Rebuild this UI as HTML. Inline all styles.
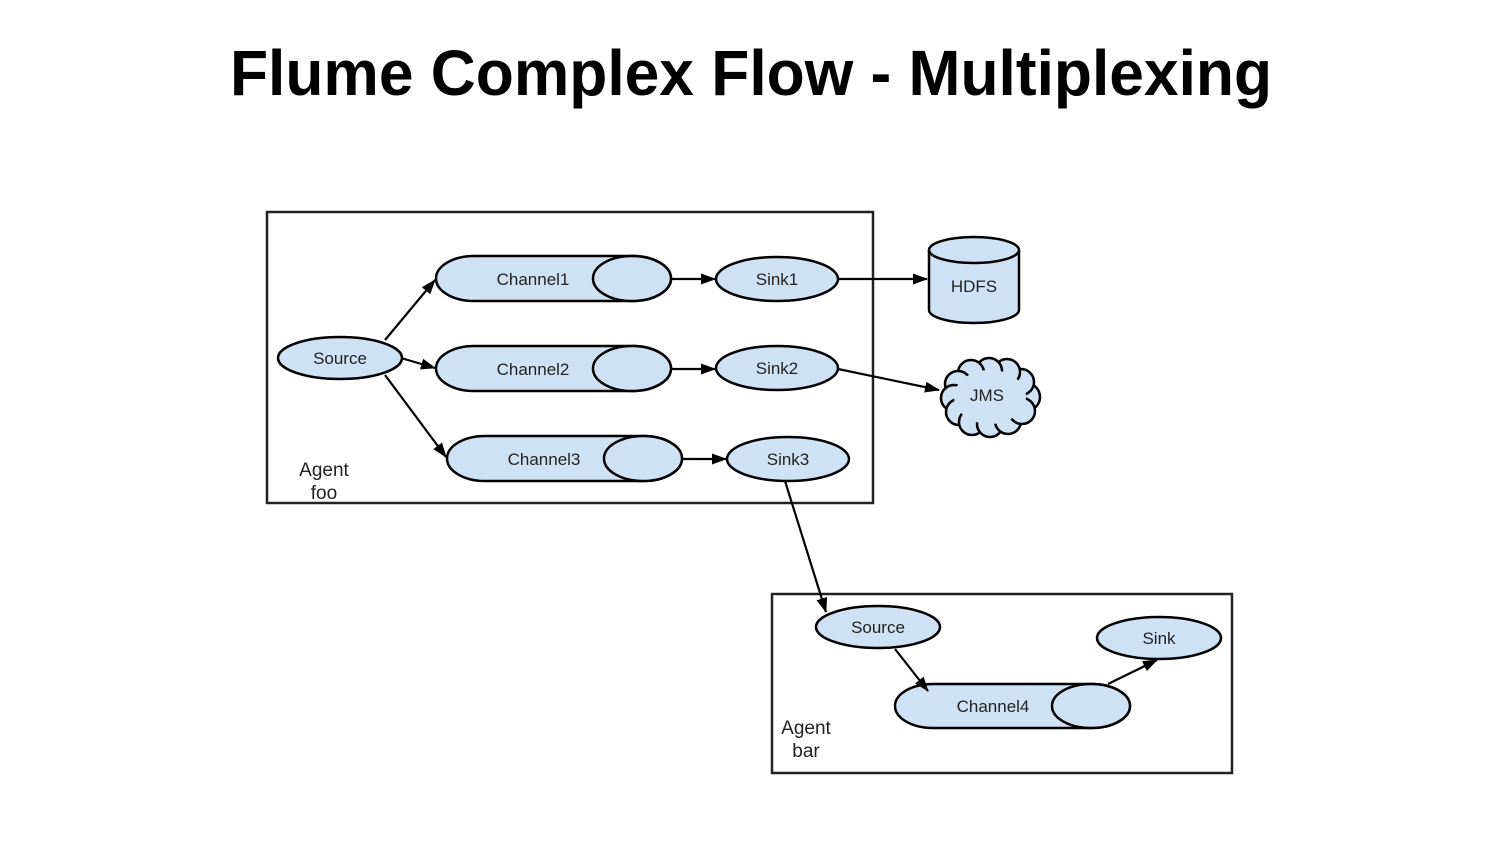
<!DOCTYPE html>
<html><head><meta charset="utf-8"><style>
html,body{margin:0;padding:0;background:#fff;}
svg{display:block;}
text{font-family:"Liberation Sans",Arial,sans-serif;}
</style></head><body>
<svg width="1500" height="844" viewBox="0 0 1500 844" xmlns="http://www.w3.org/2000/svg">
<defs>
<marker id="a" markerWidth="15" markerHeight="11" refX="14" refY="5.5" orient="auto" markerUnits="userSpaceOnUse">
<path d="M0,0 L15,5.5 L0,11 z" fill="#000"/>
</marker>
</defs>
<rect width="1500" height="844" fill="#fff"/>
<text x="751" y="95" font-size="64" font-weight="bold" text-anchor="middle" textLength="1042" lengthAdjust="spacingAndGlyphs" fill="#000">Flume Complex Flow - Multiplexing</text>

<g stroke="#000" stroke-width="2.5" fill="#cfe2f3">
<rect x="267" y="212" width="606" height="291" fill="none" stroke="#222" stroke-width="2.5"/>
<rect x="772" y="594" width="460" height="179" fill="none" stroke="#222" stroke-width="2.5"/>

<ellipse cx="340" cy="358" rx="62" ry="21"/>
<rect x="436" y="256" width="235" height="45" rx="38" ry="22.5"/>
<ellipse cx="632" cy="278.5" rx="39" ry="22.5"/>
<rect x="436" y="346" width="235" height="45" rx="38" ry="22.5"/>
<ellipse cx="632" cy="368.5" rx="39" ry="22.5"/>
<rect x="447" y="436" width="235" height="45" rx="38" ry="22.5"/>
<ellipse cx="643" cy="458.5" rx="39" ry="22.5"/>

<ellipse cx="777" cy="279" rx="61" ry="22"/>
<ellipse cx="777" cy="368" rx="61" ry="22"/>
<ellipse cx="788" cy="459" rx="61" ry="22"/>

<path d="M929,250 L929,310 A45,13 0 0 0 1019,310 L1019,250"/>
<ellipse cx="974" cy="250" rx="45" ry="13"/>

<g>
<circle cx="1026" cy="397" r="14"/><circle cx="1021" cy="382" r="13"/><circle cx="1007" cy="372" r="13"/>
<circle cx="989" cy="371" r="13"/><circle cx="971" cy="373" r="13"/><circle cx="958" cy="384" r="13"/>
<circle cx="954" cy="398" r="13"/><circle cx="959" cy="412" r="13"/><circle cx="972" cy="422" r="13"/>
<circle cx="990" cy="424" r="13"/><circle cx="1008" cy="421" r="13"/><circle cx="1022" cy="411" r="13"/>
<ellipse cx="990" cy="397" rx="36" ry="27" stroke="none"/>
</g>

<ellipse cx="878" cy="627" rx="62" ry="21"/>
<ellipse cx="1159" cy="638" rx="62" ry="21"/>
<rect x="895" y="684" width="235" height="44" rx="38" ry="22"/>
<ellipse cx="1091" cy="706" rx="39" ry="22"/>
</g>

<g stroke="#000" stroke-width="2.2" fill="none" marker-end="url(#a)">
<line x1="385" y1="340" x2="435" y2="280"/>
<line x1="401" y1="358" x2="435" y2="368"/>
<line x1="385" y1="375" x2="446" y2="457"/>
<line x1="671" y1="279" x2="715" y2="279"/>
<line x1="671" y1="369" x2="715" y2="369"/>
<line x1="682" y1="459" x2="726" y2="459"/>
<line x1="838" y1="279" x2="927" y2="279"/>
<line x1="838" y1="369" x2="939" y2="390"/>
<line x1="785" y1="481" x2="826" y2="612"/>
<line x1="895" y1="649" x2="928" y2="691"/>
<line x1="1108" y1="684" x2="1157" y2="660"/>
</g>

<g font-size="17" fill="#222" text-anchor="middle">
<text x="340" y="364">Source</text>
<text x="533" y="285">Channel1</text>
<text x="533" y="375">Channel2</text>
<text x="544" y="465">Channel3</text>
<text x="777" y="285">Sink1</text>
<text x="777" y="374">Sink2</text>
<text x="788" y="465">Sink3</text>
<text x="974" y="292">HDFS</text>
<text x="987" y="401">JMS</text>
<text x="878" y="633">Source</text>
<text x="1159" y="644">Sink</text>
<text x="993" y="712">Channel4</text>
</g>
<g font-size="19" fill="#222" text-anchor="middle">
<text x="324" y="476">Agent</text>
<text x="324" y="499">foo</text>
<text x="806" y="734">Agent</text>
<text x="806" y="757">bar</text>
</g>
</svg>
</body></html>
